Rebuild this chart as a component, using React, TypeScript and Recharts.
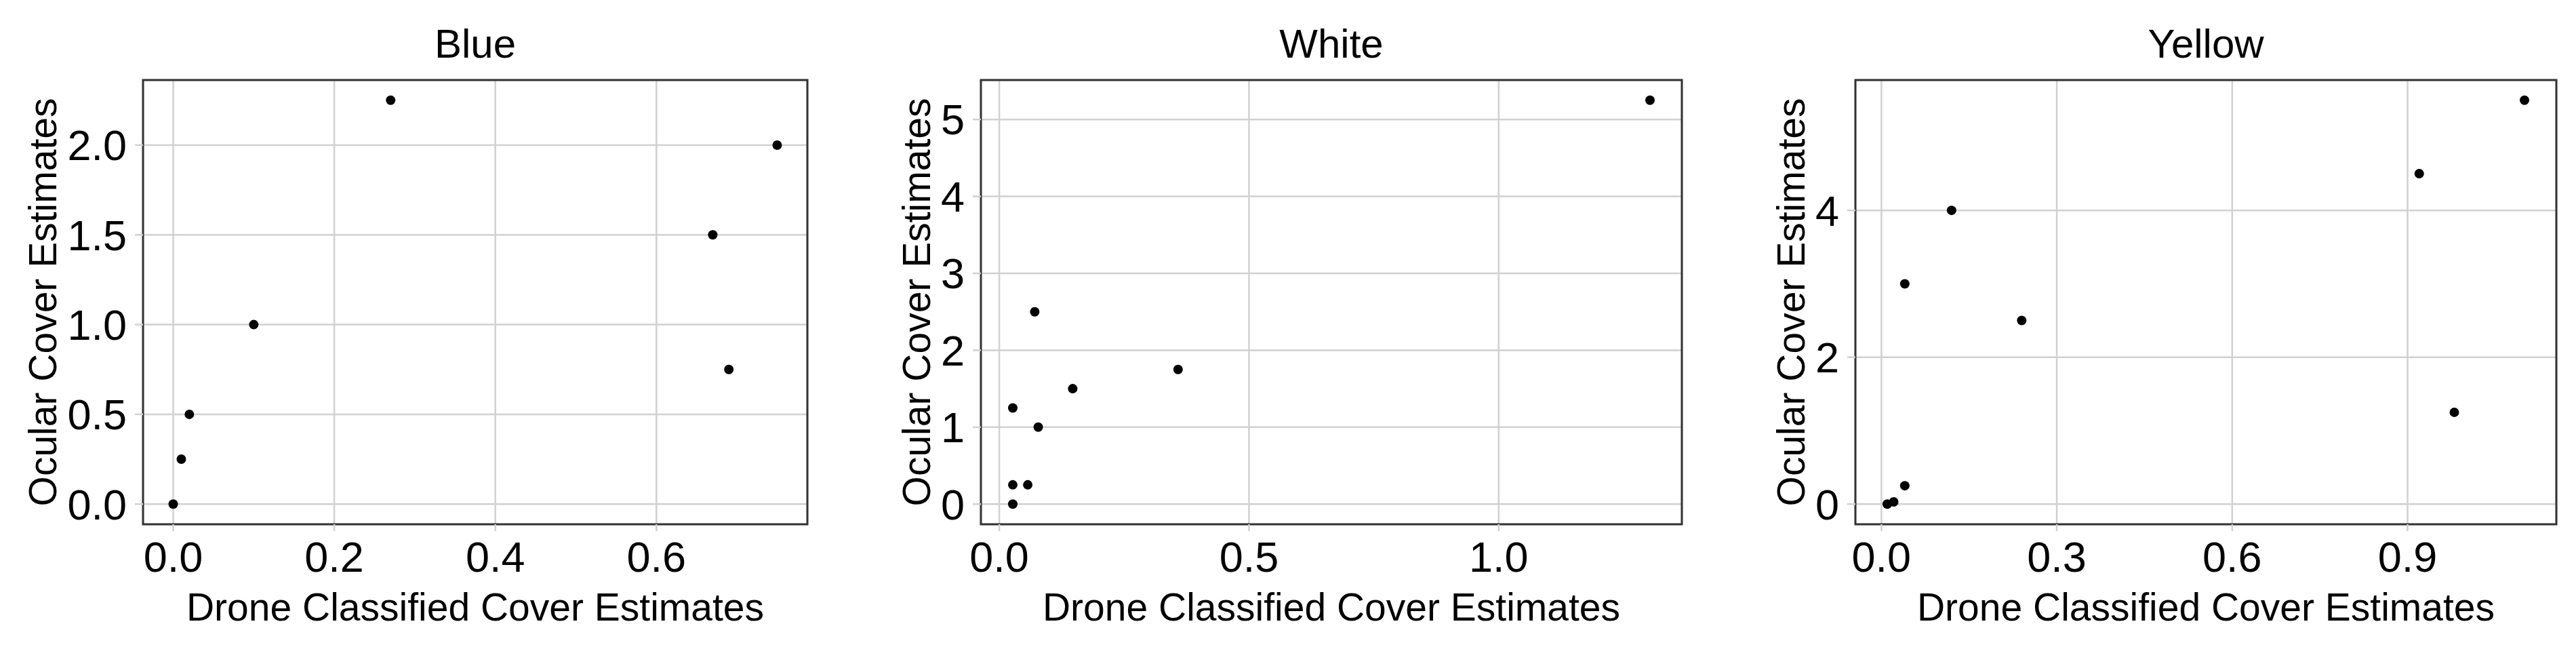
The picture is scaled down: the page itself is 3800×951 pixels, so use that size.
import {
  ScatterChart,
  Scatter,
  XAxis,
  YAxis,
  CartesianGrid,
  ReferenceArea,
  Label,
} from "recharts";

// values
const blueX = [0, 0.01, 0.02, 0.1, 0.27, 0.67, 0.69, 0.75];
const blueY = [0, 0.25, 0.5, 1.0, 2.25, 1.5, 0.75, 2.0];

const whiteX = [0.027, 0.027, 0.057, 0.027, 0.078, 0.071, 0.147, 0.358, 1.303];
const whiteY = [0, 0.25, 0.25, 1.25, 1.0, 2.5, 1.5, 1.75, 5.25];

const yellowX = [0.01, 0.021, 0.04, 0.04, 0.12, 0.24, 0.92, 0.98, 1.1];
const yellowY = [0, 0.03, 0.25, 3.0, 4.0, 2.5, 4.5, 1.25, 5.5];

const blueXTicks = [0, 0.2, 0.4, 0.6];
const blueYTicks = [0, 0.5, 1.0, 1.5, 2.0];
const whiteXTicks = [0, 0.5, 1.0];
const whiteYTicks = [0, 1, 2, 3, 4, 5];
const yellowXTicks = [0, 0.3, 0.6, 0.9];
const yellowYTicks = [0, 2, 4];

const X_TITLE = "Drone Classified Cover Estimates";
const Y_TITLE = "Ocular Cover Estimates";

const FONT = '"Liberation Sans", Arial, Helvetica, sans-serif';
const HEIGHT = 951;
const PLOT_TOP = 118;
const PLOT_BOTTOM = 773;
const GRID = "#d1d1d1";

// ggplot style 5% expansion of the data range
function expand(values: number[]): [number, number] {
  const lo = Math.min(...values);
  const hi = Math.max(...values);
  const pad = (hi - lo) * 0.05;
  return [lo - pad, hi + pad];
}

const Dot = (props: any) => <circle cx={props.cx} cy={props.cy} r={7} fill="#000" />;

interface PanelProps {
  title: string;
  xs: number[];
  ys: number[];
  xTicks: number[];
  yTicks: number[];
  yDigits: number;
  left: number;
  width: number;
  plotLeft: number;
  plotRight: number;
  yTitleGap: number;
}

function Panel(p: PanelProps) {
  const data = p.xs.map((x, i) => ({ x, y: p.ys[i] }));
  const xDomain = expand(p.xs);
  const yDomain = expand(p.ys);
  const centerX = (p.plotLeft + p.plotRight) / 2;
  const centerY = (PLOT_TOP + PLOT_BOTTOM) / 2;
  const yTitleX = p.plotLeft - p.yTitleGap;

  return (
    <div style={{ position: "absolute", left: p.left, top: 0 }}>
      <ScatterChart
        width={p.width}
        height={HEIGHT}
        margin={{ top: PLOT_TOP, right: p.width - p.plotRight, bottom: 0, left: 0 }}
      >
        <CartesianGrid stroke={GRID} strokeWidth={2.5} />
        <XAxis
          type="number"
          dataKey="x"
          domain={xDomain}
          ticks={p.xTicks}
          interval={0}
          allowDataOverflow
          height={HEIGHT - PLOT_BOTTOM}
          tickSize={10}
          tickMargin={15}
          axisLine={false}
          tickLine={{ stroke: GRID, strokeWidth: 2.5 }}
          tick={{ fill: "#000", fontSize: 63, fontFamily: FONT }}
          tickFormatter={(v: number) => v.toFixed(1)}
        >
          <Label
            content={() => (
              <g>
                <text
                  x={centerX}
                  y={915}
                  textAnchor="middle"
                  fontSize={57}
                  fontFamily={FONT}
                  fill="#000"
                >
                  {X_TITLE}
                </text>
                <text
                  x={centerX}
                  y={85}
                  textAnchor="middle"
                  fontSize={60}
                  fontFamily={FONT}
                  fill="#000"
                >
                  {p.title}
                </text>
              </g>
            )}
          />
        </XAxis>
        <YAxis
          type="number"
          dataKey="y"
          domain={yDomain}
          ticks={p.yTicks}
          interval={0}
          allowDataOverflow
          width={p.plotLeft}
          tickSize={12}
          tickMargin={12}
          axisLine={false}
          tickLine={{ stroke: GRID, strokeWidth: 2.5 }}
          tick={{ fill: "#000", fontSize: 63, fontFamily: FONT }}
          tickFormatter={(v: number) => v.toFixed(p.yDigits)}
        >
          <Label
            content={() => (
              <text
                x={yTitleX}
                y={centerY}
                transform={`rotate(-90 ${yTitleX} ${centerY})`}
                textAnchor="middle"
                fontSize={57}
                fontFamily={FONT}
                fill="#000"
              >
                {Y_TITLE}
              </text>
            )}
          />
        </YAxis>
        <ReferenceArea
          x1={xDomain[0]}
          x2={xDomain[1]}
          y1={yDomain[0]}
          y2={yDomain[1]}
          fill="none"
          stroke="#333333"
          strokeWidth={3}
          ifOverflow="visible"
        />
        <Scatter data={data} fill="#000" shape={Dot} isAnimationActive={false} />
      </ScatterChart>
    </div>
  );
}

export default function App() {
  return (
    <div
      style={{
        position: "absolute",
        left: 0,
        top: 0,
        width: 3800,
        height: HEIGHT,
        background: "#fff",
        overflow: "hidden",
      }}
    >
      <Panel
        title="Blue"
        xs={blueX}
        ys={blueY}
        xTicks={blueXTicks}
        yTicks={blueYTicks}
        yDigits={1}
        left={0}
        width={1266}
        plotLeft={211}
        plotRight={1191}
        yTitleGap={128}
      />
      <Panel
        title="White"
        xs={whiteX}
        ys={whiteY}
        xTicks={whiteXTicks}
        yTicks={whiteYTicks}
        yDigits={0}
        left={1266}
        width={1267}
        plotLeft={181}
        plotRight={1215}
        yTitleGap={75}
      />
      <Panel
        title="Yellow"
        xs={yellowX}
        ys={yellowY}
        xTicks={yellowXTicks}
        yTicks={yellowYTicks}
        yDigits={0}
        left={2533}
        width={1267}
        plotLeft={204}
        plotRight={1238}
        yTitleGap={75}
      />
    </div>
  );
}
